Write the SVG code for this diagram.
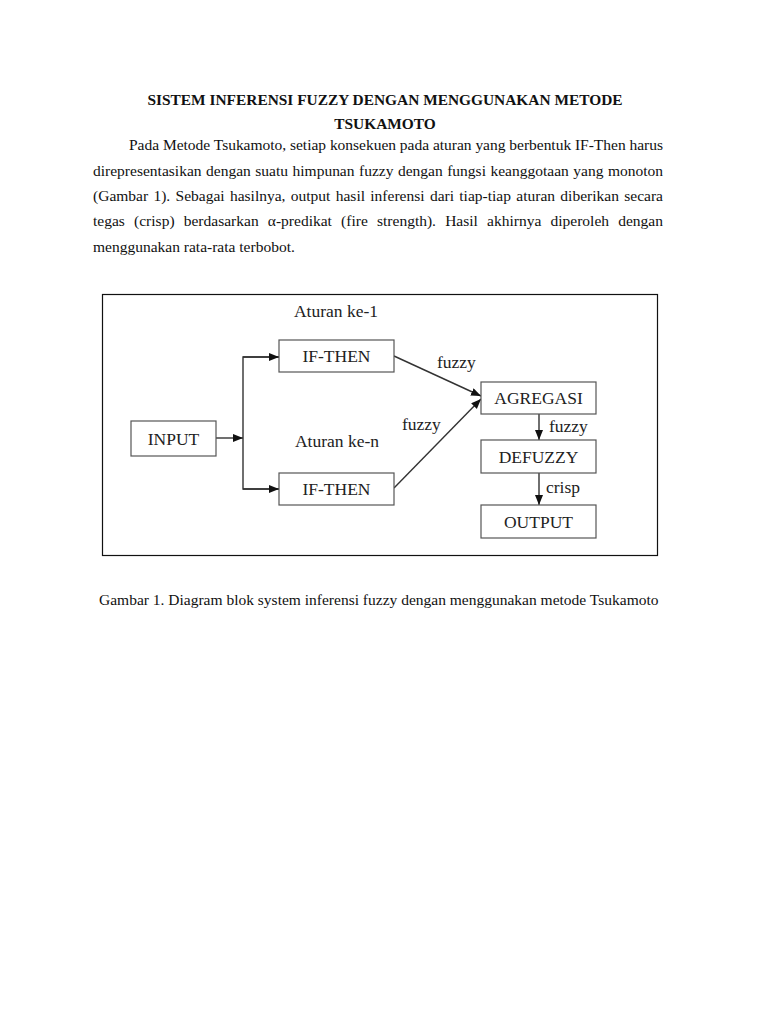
<svg xmlns="http://www.w3.org/2000/svg" width="768" height="1024" viewBox="0 0 768 1024">
<style>
.body{font-family:"Liberation Serif","Times New Roman",serif;font-size:15.5px;fill:#111}
.title{font-family:"Liberation Serif","Times New Roman",serif;font-size:15.4px;font-weight:bold;fill:#111}
.lbl{font-family:"Liberation Serif","Times New Roman",serif;font-size:17.5px;fill:#222}
.box{fill:#fff;stroke:#555;stroke-width:1.2}
.ctr{text-anchor:middle}
.con{fill:none;stroke:#333;stroke-width:1.4}
</style>
<defs>
<marker id="ah" markerUnits="userSpaceOnUse" markerWidth="11" markerHeight="9" refX="10" refY="4" orient="auto">
<path d="M0,0 L10,4 L0,8 z" fill="#111"/>
</marker>
</defs>
<rect width="768" height="1024" fill="#fff"/>
<g id="heading">
<text class="title ctr" x="385" y="105">SISTEM INFERENSI FUZZY DENGAN MENGGUNAKAN METODE</text>
<text class="title ctr" x="385" y="129">TSUKAMOTO</text>
</g>
<g id="paragraph">
<text class="body" x="129" y="150" textLength="534" lengthAdjust="spacing">Pada Metode Tsukamoto, setiap konsekuen pada aturan yang berbentuk IF-Then harus</text>
<text class="body" x="93" y="176" word-spacing="0.6" textLength="570" lengthAdjust="spacing">direpresentasikan dengan suatu himpunan fuzzy dengan fungsi keanggotaan yang monoton</text>
<text class="body" x="93" y="201" word-spacing="1.4" textLength="570" lengthAdjust="spacing">(Gambar 1). Sebagai hasilnya, output hasil inferensi dari tiap-tiap aturan diberikan secara</text>
<text class="body" x="93" y="226" word-spacing="5.3" textLength="570" lengthAdjust="spacing">tegas (crisp) berdasarkan α-predikat (fire strength). Hasil akhirnya diperoleh dengan</text>
<text class="body" x="93" y="252">menggunakan rata-rata terbobot.</text>
</g>
<g id="frame">
<rect x="102.5" y="294.5" width="555" height="261" fill="none" stroke="#111" stroke-width="1.2"/>
</g>
<g id="connectors">
<line class="con" x1="216" y1="438" x2="243" y2="438" marker-end="url(#ah)"/>
<polyline class="con" points="279,357 243,357 243,489 279,489"/>
<line class="con" x1="243" y1="357" x2="279" y2="357" marker-end="url(#ah)"/>
<line class="con" x1="243" y1="489" x2="279" y2="489" marker-end="url(#ah)"/>
<line class="con" x1="394" y1="356" x2="481" y2="396" marker-end="url(#ah)"/>
<line class="con" x1="394" y1="488" x2="481" y2="399" marker-end="url(#ah)"/>
<line class="con" x1="539" y1="414" x2="539" y2="440" marker-end="url(#ah)"/>
<line class="con" x1="539" y1="473" x2="539" y2="505" marker-end="url(#ah)"/>
<text class="lbl" x="437" y="368">fuzzy</text>
<text class="lbl" x="402" y="430">fuzzy</text>
<text class="lbl" x="549" y="432">fuzzy</text>
<text class="lbl" x="546" y="493">crisp</text>
</g>
<g id="label-aturan-1"><text class="lbl ctr" x="336" y="317">Aturan ke-1</text></g>
<g id="label-aturan-n"><text class="lbl ctr" x="337" y="447">Aturan ke-n</text></g>
<g id="input">
<rect class="box" x="131" y="421" width="85" height="35"/>
<text class="lbl ctr" x="173.5" y="444.5">INPUT</text>
</g>
<g id="ifthen-1">
<rect class="box" x="279" y="340" width="115" height="32"/>
<text class="lbl ctr" x="336.5" y="362">IF-THEN</text>
</g>
<g id="ifthen-n">
<rect class="box" x="279" y="473" width="115" height="32"/>
<text class="lbl ctr" x="336.5" y="495">IF-THEN</text>
</g>
<g id="agregasi">
<rect class="box" x="481" y="382" width="115" height="32"/>
<text class="lbl ctr" x="538.5" y="404">AGREGASI</text>
</g>
<g id="defuzzy">
<rect class="box" x="481" y="440" width="115" height="33"/>
<text class="lbl ctr" x="538.5" y="462.5">DEFUZZY</text>
</g>
<g id="output">
<rect class="box" x="481" y="505" width="115" height="33"/>
<text class="lbl ctr" x="538.5" y="527.5">OUTPUT</text>
</g>
<g id="caption">
<text class="body" x="99" y="605">Gambar 1. Diagram blok system inferensi fuzzy dengan menggunakan metode Tsukamoto</text>
</g>
</svg>
